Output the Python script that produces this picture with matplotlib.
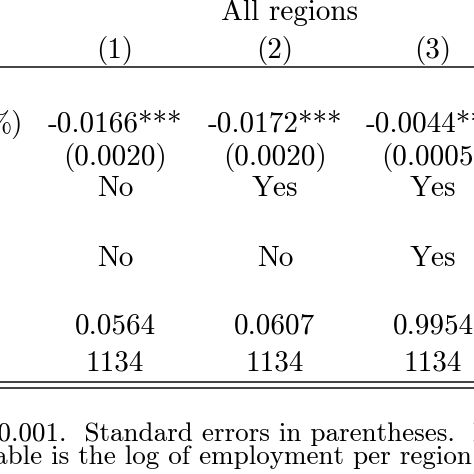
import matplotlib.pyplot as plt

plt.rcParams['font.family'] = ['cmr10', 'DejaVu Serif']
plt.rcParams['mathtext.fontset'] = 'cm'

header = "All regions"
col_labels = ["(1)", "(2)", "(3)"]
coefs = ["-0.0166***", "-0.0172***", "-0.0044***"]
ses = ["(0.0020)", "(0.0020)", "(0.0005)"]
fe1 = ["No", "Yes", "Yes"]
fe2 = ["No", "No", "Yes"]
r2 = ["0.0564", "0.0607", "0.9954"]
nobs = ["1134", "1134", "1134"]
row_label = "%)"
note1 = "<0.001.  Standard errors in parentheses.  Each"
note2 = "able is the log of employment per region."

fig = plt.figure(figsize=(4.74, 4.74), dpi=100)
ax = fig.add_axes([0, 0, 1, 1])
ax.set_xlim(0, 474)
ax.set_ylim(474, 0)
ax.axis("off")

xs = [115, 275, 433]
fs = 21

ax.text(290, 13, header, ha="center", va="center", fontsize=fs)
rows = [(50, col_labels), (124, coefs), (157, ses), (189, fe1),
        (259, fe2), (326, r2), (363, nobs)]
for y, vals in rows:
    for x, v in zip(xs, vals):
        ax.text(x, y, v, ha="center", va="center", fontsize=fs)

ax.text(-13, 124, row_label, ha="left", va="center", fontsize=fs)

ax.axhline(67, color="#333333", lw=1.3)
ax.axhline(382, color="#333333", lw=1.3)
ax.axhline(388, color="#333333", lw=1.3)

ax.text(-10, 434, note1, ha="left", va="center", fontsize=19.5)
ax.text(-6, 457, note2, ha="left", va="center", fontsize=19.5)

fig.savefig("out.png", dpi=100)
